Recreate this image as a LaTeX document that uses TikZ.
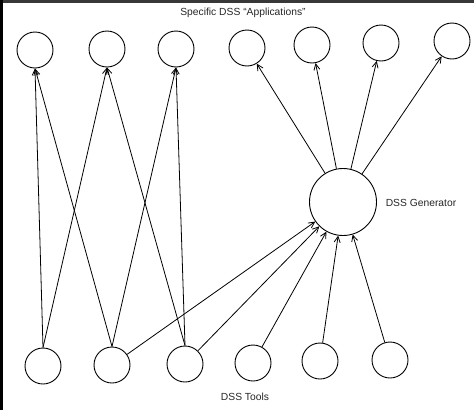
\documentclass[tikz,border=0pt]{standalone}
\usepackage{fontspec}
\setmainfont{Liberation Sans}
\usetikzlibrary{arrows.meta}
\begin{document}
\begin{tikzpicture}[x=1pt,y=-1pt,
  small/.style={circle,draw,line width=0.9pt,minimum size=36pt,inner sep=0pt},
  big/.style={circle,draw,line width=0.9pt,minimum size=67pt,inner sep=0pt},
  lbl/.style={font=\fontsize{10.3}{12}\selectfont,text=black!85,inner sep=0pt},
  conn/.style={line width=0.8pt,-{Straight Barb[length=6pt,width=6pt,line width=0.8pt]}}]
\useasboundingbox (0,0) rectangle (474,410);
\fill[black!78] (0,0) rectangle (474,3);
\fill[black] (0,0) rectangle (3,410);
% applications
\node[small] (a1) at (35,50) {};
\node[small] (a2) at (107,49) {};
\node[small] (a3) at (176,49) {};
\node[small] (a4) at (247,48) {};
\node[small] (a5) at (312,45) {};
\node[small] (a6) at (381,43) {};
\node[small] (a7) at (452,41) {};
% tools
\node[small] (t1) at (43,366) {};
\node[small] (t2) at (112,365) {};
\node[small] (t3) at (185,364) {};
\node[small] (t4) at (253,363) {};
\node[small] (t5) at (320,361) {};
\node[small] (t6) at (390,360) {};
% generator
\node[big] (g) at (343,202) {};
% labels
\node[lbl] (title) at (243,13) {Specific DSS “Applications”};
\node[lbl] (tools) at (245,397) {DSS Tools};
\node[lbl] (glbl) at (421,203) {DSS Generator};
% connectors
\draw[conn] (t1.north) -- (a1.south);
\draw[conn] (t1.north) -- (a2.south);
\draw[conn] (t2.north) -- (a1.south);
\draw[conn] (t2.north) -- (a3.south);
\draw[conn] (t3.north) -- (a2.south);
\draw[conn] (t3.north) -- (a3.south);
\draw[conn] (t2) -- (g);
\draw[conn] (t3) -- (g);
\draw[conn] (t4) -- (g);
\draw[conn] (t5) -- (g);
\draw[conn] (t6) -- (g);
\draw[conn] (g) -- (a4);
\draw[conn] (g) -- (a5);
\draw[conn] (g) -- (a6);
\draw[conn] (g) -- (a7);
\end{tikzpicture}
\end{document}
